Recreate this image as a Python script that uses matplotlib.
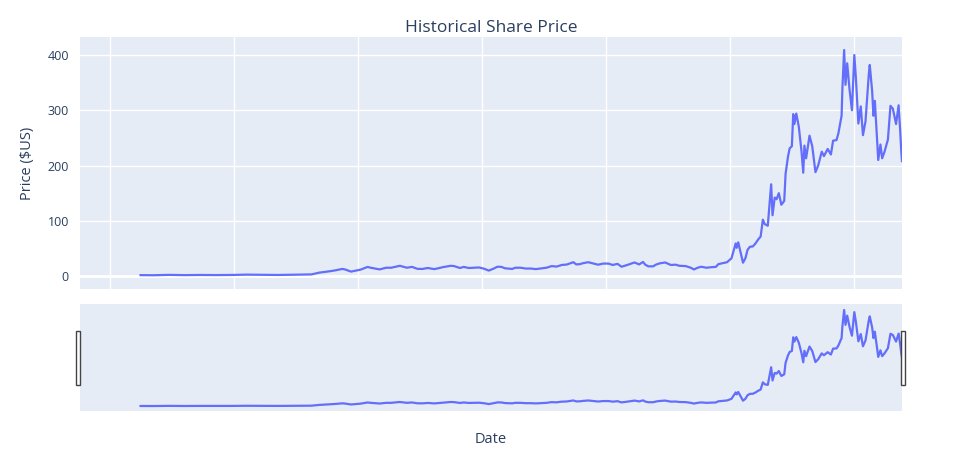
import matplotlib
matplotlib.use("Agg")
import matplotlib.pyplot as plt
import matplotlib.dates as mdates
from matplotlib.patches import Rectangle
import pandas as pd

# share price (adjusted, $US)
dates = ["2010-06-29", "2010-09-15", "2010-12-15", "2011-03-15", "2011-06-15", "2011-09-15",
         "2011-12-15", "2012-03-15", "2012-06-15", "2012-09-15", "2012-12-15", "2013-03-01",
         "2013-04-01", "2013-05-15", "2013-07-15", "2013-08-15", "2013-09-30", "2013-10-15",
         "2013-11-20", "2013-12-15", "2014-01-15", "2014-02-26", "2014-03-15", "2014-05-08",
         "2014-06-15", "2014-07-15", "2014-09-04", "2014-10-15", "2014-11-15", "2014-12-16",
         "2015-01-15", "2015-02-15", "2015-03-26", "2015-04-15", "2015-05-15", "2015-07-01",
         "2015-07-20", "2015-08-24", "2015-09-15", "2015-10-15", "2015-11-15", "2015-12-15",
         "2016-01-15", "2016-02-10", "2016-03-10", "2016-04-01", "2016-04-25", "2016-05-15",
         "2016-06-27", "2016-07-15", "2016-08-15", "2016-09-15", "2016-10-15", "2016-11-14",
         "2016-12-15", "2017-01-15", "2017-02-15", "2017-03-15", "2017-04-15", "2017-05-15",
         "2017-06-22", "2017-07-10", "2017-08-01", "2017-08-15", "2017-09-18", "2017-10-15",
         "2017-11-15", "2017-12-15", "2018-01-15", "2018-02-09", "2018-03-10", "2018-04-02",
         "2018-05-01", "2018-06-18", "2018-07-15", "2018-08-07", "2018-08-20", "2018-09-07",
         "2018-10-05", "2018-10-25", "2018-11-15", "2018-12-15", "2019-01-18", "2019-02-15",
         "2019-03-10", "2019-04-15", "2019-05-15", "2019-06-03", "2019-06-25", "2019-07-15",
         "2019-08-15", "2019-09-15", "2019-10-10", "2019-10-25", "2019-11-15", "2019-12-15",
         "2020-01-10", "2020-02-04", "2020-02-10", "2020-02-19", "2020-03-18", "2020-04-01",
         "2020-04-14", "2020-04-28", "2020-05-15", "2020-06-01", "2020-06-15", "2020-06-30",
         "2020-07-13", "2020-07-24", "2020-08-11", "2020-08-31", "2020-09-08", "2020-09-21",
         "2020-10-02", "2020-10-15", "2020-10-30", "2020-11-16", "2020-11-24", "2020-12-08",
         "2020-12-18", "2020-12-31", "2021-01-08", "2021-01-15", "2021-01-26", "2021-02-10",
         "2021-02-26", "2021-03-08", "2021-03-15", "2021-03-25", "2021-04-14", "2021-04-30",
         "2021-05-19", "2021-06-04", "2021-06-25", "2021-07-08", "2021-07-30", "2021-08-18",
         "2021-08-31", "2021-09-20", "2021-10-01", "2021-10-20", "2021-10-25", "2021-11-04",
         "2021-11-12", "2021-11-22", "2021-12-06", "2021-12-20", "2022-01-03", "2022-01-12",
         "2022-01-27", "2022-02-10", "2022-02-23", "2022-03-10", "2022-03-29", "2022-04-04",
         "2022-04-18", "2022-04-26", "2022-05-04", "2022-05-24", "2022-06-06", "2022-06-16",
         "2022-06-30", "2022-07-20", "2022-08-04", "2022-08-18", "2022-09-06", "2022-09-21",
         "2022-09-30", "2022-10-07", "2022-10-11"]
price = [1.59, 1.4, 2.1, 1.6, 1.9, 1.7,
         1.9, 2.5, 2.1, 1.9, 2.3, 2.5,
         2.9, 6.0, 8.5, 10.0, 12.8, 12.0,
         8.0, 9.5, 11.5, 16.5, 15.0, 12.0,
         15.0, 15.0, 18.5, 15.0, 16.5, 13.0,
         12.8, 14.5, 12.5, 13.8, 16.0, 18.5,
         18.0, 14.5, 16.5, 14.5, 15.0, 15.5,
         13.0, 9.8, 13.5, 16.8, 16.5, 14.0,
         12.8, 15.0, 15.0, 13.5, 13.5, 12.5,
         13.8, 15.0, 18.0, 17.0, 20.0, 20.8,
         25.0, 21.0, 21.5, 23.0, 25.0, 23.0,
         20.5, 22.5, 22.5, 20.0, 22.0, 16.8,
         19.5, 24.5, 21.0, 25.5, 20.5, 17.5,
         17.5, 21.0, 23.0, 24.5, 20.0, 20.5,
         18.5, 18.0, 15.0, 11.9, 15.0, 16.8,
         15.0, 16.0, 16.5, 21.5, 23.0, 25.0,
         32.0, 59.0, 51.0, 61.0, 24.1, 32.0,
         47.5, 53.0, 53.5, 59.5, 66.0, 71.5,
         102.0, 94.0, 91.0, 166.0, 110.0, 142.0,
         139.0, 150.0, 129.0, 136.0, 185.0, 216.0,
         231.0, 235.0, 293.0, 275.0, 294.0, 270.0,
         225.0, 187.0, 236.0, 213.0, 254.0, 235.0,
         188.0, 200.0, 225.0, 217.0, 230.0, 220.0,
         245.0, 246.0, 258.0, 290.0, 341.0, 409.0,
         346.0, 385.0, 337.0, 300.0, 400.0, 360.0,
         276.0, 307.0, 255.0, 280.0, 364.0, 382.0,
         335.0, 290.0, 317.0, 210.0, 238.0, 213.0,
         225.0, 247.0, 308.0, 303.0, 275.0, 309.0,
         265.0, 224.0, 208.0]

dates = pd.to_datetime(dates)

plt.rcParams['font.family'] = ['Open Sans', 'DejaVu Sans']
bg = '#E5ECF6'
txt = '#2a3f5f'
line = '#636EFA'

fig = plt.figure(figsize=(9.75, 4.63), dpi=100)
W, H = 975, 463

def box(x0, y0, x1, y1):
    return [x0 / W, 1 - y1 / H, (x1 - x0) / W, (y1 - y0) / H]

xmin = pd.Timestamp("2009-07-07")
xmax = pd.Timestamp("2022-10-11")

ax = fig.add_axes(box(80, 37, 902, 289))
ax.set_facecolor(bg)
ax.plot(dates, price, color=line, lw=1.6)
ax.set_xlim(xmin, xmax)
ax.set_ylim(-23.5, 432.6)
ax.set_yticks([0, 100, 200, 300, 400])
ax.xaxis.set_major_locator(mdates.YearLocator(2))
ax.tick_params(axis='x', length=0, labelbottom=False)
ax.tick_params(axis='y', length=0, labelsize=9, labelcolor=txt, pad=8)
ax.grid(True, color='white', lw=1)
ax.axhline(0, color='white', lw=2, zorder=1)
ax.set_axisbelow(True)
for s in ax.spines.values():
    s.set_visible(False)
ax.set_ylabel("Price ($US)", fontsize=10.5, color=txt, labelpad=9)
ax.set_title("Historical Share Price", fontsize=12.5, color=txt, pad=3.5)

# range slider
rs = fig.add_axes(box(80, 304, 902, 411))
rs.set_facecolor(bg)
rs.plot(dates, price, color=line, lw=1.6)
rs.set_xlim(xmin, xmax)
rs.set_ylim(-19.7, 434.5)
rs.set_xticks([])
rs.set_yticks([])
for s in rs.spines.values():
    s.set_visible(False)
rs.set_xlabel("Date", fontsize=10.5, color=txt, labelpad=15)

for hx in (76, 901):
    b = box(hx, 331, hx + 4, 385)
    fig.patches.append(Rectangle((b[0], b[1]), b[2], b[3], transform=fig.transFigure,
                                 facecolor='white', edgecolor='#444444', lw=1))

fig.savefig("out.png", dpi=100)
